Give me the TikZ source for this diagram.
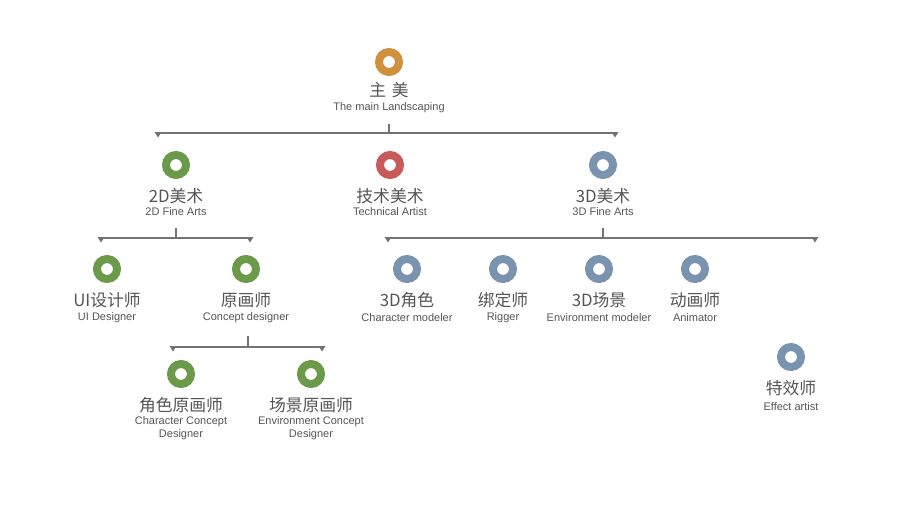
\documentclass[tikz,border=0pt]{standalone}
\usepackage{fontspec}
\setmainfont{Liberation Sans}
\newfontfamily\cjk{Noto Sans CJK SC}
\definecolor{corange}{HTML}{D0913F}
\definecolor{cgreen}{HTML}{6A9A4A}
\definecolor{cred}{HTML}{C85A5A}
\definecolor{cblue}{HTML}{7A93AE}
\definecolor{ctext}{HTML}{555555}
\definecolor{cline}{HTML}{737373}
\begin{document}
\begin{tikzpicture}[x=1pt,y=-1pt,
  ring/.style={circle,draw=#1,line width=8pt,minimum size=20pt,inner sep=0pt},
  zh/.style={text=ctext,font=\cjk\fontsize{16.8}{18}\selectfont,inner sep=0pt},
  en/.style={text=ctext,font=\fontsize{11}{13}\selectfont,inner sep=0pt,align=center},
  bar/.style={draw=cline,line width=2pt},
  tick/.style={draw=cline,line width=2pt}]
\useasboundingbox (0,0) rectangle (899,514);
\newcommand{\drop}[1]{\fill[cline] (#1) ++(-3.5,-1) -- ++(7,0) -- ++(-3.5,5.5) -- cycle;}
% level 1
\node[ring=corange] (top) at (389,62) {};
\node[zh] (topzh) at (389,90) {主\hspace{0.35em}美};
\node[en] (topen) at (389,107.5) {The main Landscaping};
% level 2
\node[ring=cgreen] (d2) at (176,165) {};
\node[zh] (d2zh) at (176,196) {2D美术};
\node[en] (d2en) at (176,212) {2D Fine Arts};
\node[ring=cred] (ta) at (390,165) {};
\node[zh] (tazh) at (390,196) {技术美术};
\node[en] (taen) at (390,212) {Technical Artist};
\node[ring=cblue] (d3) at (603,165) {};
\node[zh] (d3zh) at (603,196) {3D美术};
\node[en] (d3en) at (603,212) {3D Fine Arts};
% level 3 (2D)
\node[ring=cgreen] (ui) at (107,269) {};
\node[zh] (uizh) at (107,300) {UI设计师};
\node[en] (uien) at (107,318) {UI Designer};
\node[ring=cgreen] (cd) at (246,269) {};
\node[zh] (cdzh) at (246,300) {原画师};
\node[en] (cden) at (246,318) {Concept designer};
% level 3 (3D)
\node[ring=cblue] (cm) at (407,269) {};
\node[zh] (cmzh) at (407,300) {3D角色};
\node[en] (cmen) at (407,318) {Character modeler};
\node[ring=cblue] (rg) at (503,269) {};
\node[zh] (rgzh) at (503,300) {绑定师};
\node[en] (rgen) at (503,318) {Rigger};
\node[ring=cblue] (em) at (599,269) {};
\node[zh] (emzh) at (599,300) {3D场景};
\node[en] (emen) at (599,318) {Environment modeler};
\node[ring=cblue] (an) at (695,269) {};
\node[zh] (anzh) at (695,300) {动画师};
\node[en] (anen) at (695,318) {Animator};
\node[ring=cblue] (ef) at (791,357) {};
\node[zh] (efzh) at (791,388) {特效师};
\node[en] (efen) at (791,406.5) {Effect artist};
% level 4
\node[ring=cgreen] (ccd) at (181,374) {};
\node[zh] (ccdzh) at (181,405) {角色原画师};
\node[en] (ccden) at (181,428) {Character Concept\\Designer};
\node[ring=cgreen] (ecd) at (311,374) {};
\node[zh] (ecdzh) at (311,405) {场景原画师};
\node[en] (ecden) at (311,428) {Environment Concept\\Designer};
% bars
\coordinate (b1t) at (389,124); \coordinate (b1m) at (389,133);
\coordinate (b1l) at (158,133); \coordinate (b1r) at (615,133);
\draw[tick] (b1t) -- (b1m);
\draw[bar] (b1l) -- (b1r);
\drop{b1l}\drop{b1r}
\coordinate (b2t) at (176,228); \coordinate (b2m) at (176,238);
\coordinate (b2l) at (101,238); \coordinate (b2r) at (250,238);
\draw[tick] (b2t) -- (b2m);
\draw[bar] (b2l) -- (b2r);
\drop{b2l}\drop{b2r}
\coordinate (b3t) at (603,228); \coordinate (b3m) at (603,238);
\coordinate (b3l) at (388,238); \coordinate (b3r) at (815,238);
\draw[tick] (b3t) -- (b3m);
\draw[bar] (b3l) -- (b3r);
\drop{b3l}\drop{b3r}
\coordinate (b4t) at (248,336); \coordinate (b4m) at (248,347);
\coordinate (b4l) at (173,347); \coordinate (b4r) at (322,347);
\draw[tick] (b4t) -- (b4m);
\draw[bar] (b4l) -- (b4r);
\drop{b4l}\drop{b4r}
\end{tikzpicture}
\end{document}
